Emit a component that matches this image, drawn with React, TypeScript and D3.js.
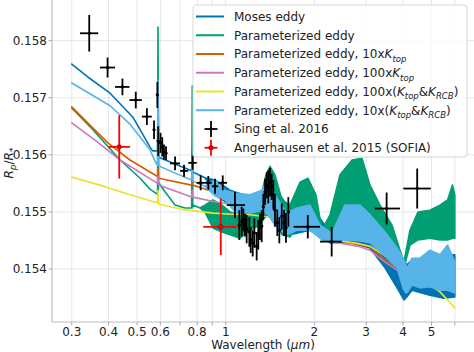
import React, { useEffect, useRef } from 'react';
import * as d3 from 'd3';

// model spectra: [wavelength (um), lower Rp/R*, upper Rp/R*]
// upper differs from lower where the spectrum is spiky or noisy
const mosesEddy: number[][] = [
  [0.300, 0.15759, 0.15759], [0.341, 0.15736, 0.15736], [0.405, 0.15708, 0.15708],
  [0.484, 0.15666, 0.15666], [0.553, 0.15614, 0.15614], [0.565, 0.15607, 0.15607],
  [0.587, 0.15607, 0.15607], [0.589, 0.15607, 0.15731], [0.592, 0.15596, 0.15596],
  [0.673, 0.15584, 0.15584], [0.766, 0.15572, 0.15572], [0.770, 0.15572, 0.15609],
  [0.773, 0.15570, 0.15570], [0.850, 0.15560, 0.15560], [0.920, 0.15530, 0.15556],
  [1.034, 0.15512, 0.15538], [1.307, 0.15486, 0.15521], [1.414, 0.15495, 0.15556],
  [1.653, 0.15460, 0.15503], [1.933, 0.15468, 0.15512], [2.261, 0.15446, 0.15465],
  [2.643, 0.15446, 0.15512], [3.090, 0.15437, 0.15495], [3.476, 0.15402, 0.15460],
  [3.82, 0.15367, 0.15433], [4.03, 0.15346, 0.15416], [4.12, 0.15351, 0.15407],
  [4.29, 0.15363, 0.15416], [4.94, 0.15354, 0.15419], [5.5, 0.15349, 0.15425],
  [6.0, 0.15351, 0.15425],
];

const paramEddy: number[][] = [
  [0.300, 0.15682, 0.15682], [0.354, 0.15644, 0.15644], [0.438, 0.15591, 0.15591],
  [0.512, 0.15559, 0.15559], [0.553, 0.15540, 0.15540], [0.579, 0.15533, 0.15533],
  [0.587, 0.15531, 0.15531], [0.589, 0.15531, 0.15824], [0.592, 0.15551, 0.15551],
  [0.623, 0.15535, 0.15535], [0.673, 0.15512, 0.15512], [0.727, 0.15507, 0.15507],
  [0.766, 0.15507, 0.15507], [0.770, 0.15507, 0.15721], [0.773, 0.15512, 0.15512],
  [0.818, 0.15507, 0.15507], [0.850, 0.15500, 0.15512], [0.905, 0.15472, 0.15521],
  [0.972, 0.15465, 0.15512], [1.034, 0.15460, 0.15500], [1.118, 0.15454, 0.15495],
  [1.209, 0.15468, 0.15512], [1.307, 0.15477, 0.15521], [1.370, 0.15495, 0.15565],
  [1.414, 0.15500, 0.15580], [1.470, 0.15486, 0.15565], [1.553, 0.15460, 0.15521],
  [1.653, 0.15456, 0.15512], [1.788, 0.15486, 0.15552], [1.903, 0.15482, 0.15559],
  [2.025, 0.15468, 0.15530], [2.122, 0.15451, 0.15468], [2.261, 0.15454, 0.15495],
  [2.444, 0.15495, 0.15565], [2.687, 0.15503, 0.15591], [2.902, 0.15512, 0.15594],
  [3.090, 0.15498, 0.15547], [3.342, 0.15477, 0.15512], [3.67, 0.15442, 0.15477],
  [3.907, 0.15412, 0.15433], [4.03, 0.15402, 0.15412], [4.225, 0.15442, 0.15468],
  [4.50, 0.15451, 0.15500], [4.94, 0.15454, 0.15503], [5.34, 0.15451, 0.15512],
  [5.67, 0.15451, 0.15521], [5.89, 0.15454, 0.15547], [6.0, 0.15454, 0.15530],
];

const tenKtop: number[][] = [
  [0.300, 0.15684, 0.15684], [0.346, 0.15652, 0.15652], [0.398, 0.15621, 0.15621],
  [0.473, 0.15591, 0.15591], [0.583, 0.15563, 0.15563], [0.587, 0.15562, 0.15562],
  [0.589, 0.15562, 0.15577], [0.592, 0.15559, 0.15559], [0.766, 0.15547, 0.15547],
  [0.770, 0.15547, 0.15556], [0.773, 0.15547, 0.15547], [0.850, 0.15540, 0.15540],
  [0.934, 0.15535, 0.15535], [1.034, 0.15524, 0.15524], [1.209, 0.15512, 0.15512],
  [1.529, 0.15495, 0.15495], [1.933, 0.15477, 0.15477], [2.35, 0.15451, 0.15451],
  [2.858, 0.15442, 0.15442], [3.090, 0.15439, 0.15439], [3.476, 0.15416, 0.15416],
  [3.82, 0.15402, 0.15402], [4.06, 0.15390, 0.15390], [4.30, 0.15383, 0.15383],
  [4.568, 0.15379, 0.15379], [5.34, 0.15372, 0.15372], [6.0, 0.15363, 0.15363],
];

const hundredKtop: number[][] = [
  [0.300, 0.15656, 0.15656], [0.360, 0.15626, 0.15626], [0.438, 0.15591, 0.15591],
  [0.583, 0.15551, 0.15551], [0.587, 0.15551, 0.15551], [0.589, 0.15551, 0.15563],
  [0.592, 0.15547, 0.15547], [0.766, 0.15526, 0.15526], [0.770, 0.15526, 0.15538],
  [0.773, 0.15526, 0.15526], [0.934, 0.15517, 0.15517], [1.034, 0.15514, 0.15514],
  [1.209, 0.15507, 0.15507], [1.529, 0.15491, 0.15491], [1.933, 0.15474, 0.15474],
  [2.35, 0.15447, 0.15447], [2.858, 0.15439, 0.15439], [3.090, 0.15433, 0.15433],
  [3.476, 0.15412, 0.15412], [3.82, 0.15398, 0.15398], [4.06, 0.15388, 0.15388],
  [4.568, 0.15379, 0.15379], [5.34, 0.15370, 0.15370], [6.0, 0.15360, 0.15360],
];

const hundredBoth: number[][] = [
  [0.300, 0.15561, 0.15561], [0.374, 0.15547, 0.15547], [0.473, 0.15530, 0.15530],
  [0.584, 0.15516, 0.15516], [0.587, 0.15516, 0.15516], [0.589, 0.15516, 0.15538],
  [0.592, 0.15514, 0.15514], [0.700, 0.15505, 0.15505], [0.905, 0.15498, 0.15498],
  [1.059, 0.15496, 0.15496], [1.209, 0.15495, 0.15495], [1.529, 0.15489, 0.15489],
  [1.933, 0.15472, 0.15472], [2.35, 0.15451, 0.15451], [2.858, 0.15444, 0.15444],
  [3.090, 0.15440, 0.15440], [3.476, 0.15423, 0.15423], [3.82, 0.15409, 0.15409],
  [4.06, 0.15398, 0.15398], [4.568, 0.15384, 0.15384], [5.34, 0.15360, 0.15360],
  [6.0, 0.15332, 0.15332],
];

const tenBoth: number[][] = [
  [0.300, 0.15726, 0.15726], [0.346, 0.15707, 0.15707], [0.405, 0.15686, 0.15686],
  [0.473, 0.15654, 0.15654], [0.553, 0.15609, 0.15609], [0.579, 0.15586, 0.15586],
  [0.587, 0.15582, 0.15582], [0.589, 0.15582, 0.15731], [0.592, 0.15581, 0.15581],
  [0.673, 0.15568, 0.15568], [0.766, 0.15556, 0.15556], [0.770, 0.15556, 0.15594],
  [0.773, 0.15554, 0.15554], [0.850, 0.15545, 0.15545], [0.920, 0.15528, 0.15556],
  [0.995, 0.15521, 0.15538], [1.075, 0.15500, 0.15533], [1.209, 0.15498, 0.15530],
  [1.328, 0.15503, 0.15538], [1.392, 0.15495, 0.15556], [1.470, 0.15477, 0.15530],
  [1.610, 0.15460, 0.15498], [1.748, 0.15468, 0.15507], [1.933, 0.15468, 0.15512],
  [2.090, 0.15454, 0.15477], [2.295, 0.15446, 0.15463], [2.54, 0.15451, 0.15512],
  [2.858, 0.15449, 0.15512], [3.090, 0.15446, 0.15495], [3.476, 0.15423, 0.15465],
  [3.82, 0.15402, 0.15437], [4.00, 0.15367, 0.15419], [4.09, 0.15358, 0.15407],
  [4.15, 0.15360, 0.15402], [4.29, 0.15372, 0.15419], [4.568, 0.15367, 0.15419],
  [4.94, 0.15369, 0.15433], [5.34, 0.15363, 0.15425], [5.67, 0.15363, 0.15442],
  [6.0, 0.15358, 0.15412],
];

// observations: [wavelength, bin low, bin high, Rp/R*, error]
const singData: number[][] = [
  [0.344, 0.320, 0.369, 0.15813, 0.00032], [0.397, 0.374, 0.421, 0.15753, 0.000175],
  [0.446, 0.421, 0.471, 0.15719, 0.000146], [0.495, 0.471, 0.519, 0.15696, 0.000146],
  [0.540, 0.519, 0.561, 0.15667, 0.000146], [0.571, 0.567, 0.575, 0.15644, 0.00016],
  [0.586, 0.584, 0.588, 0.15705, 0.00023], [0.590, 0.588, 0.592, 0.15624, 0.00026],
  [0.601, 0.597, 0.605, 0.15621, 0.000175], [0.609, 0.605, 0.613, 0.15614, 0.00017],
  [0.617, 0.613, 0.621, 0.15605, 0.00013], [0.627, 0.622, 0.632, 0.15603, 0.00012],
  [0.673, 0.647, 0.700, 0.15585, 0.00012], [0.722, 0.700, 0.746, 0.15572, 0.000105],
  [0.772, 0.746, 0.797, 0.15586, 0.00012], [0.822, 0.797, 0.850, 0.15551, 0.00013],
  [0.873, 0.850, 0.897, 0.15551, 0.00012], [0.920, 0.897, 0.944, 0.15545, 0.00013],
  [0.977, 0.944, 1.010, 0.15551, 0.00013], [1.075, 1.008, 1.163, 0.15512, 0.00023],
  [1.112, 1.103, 1.121, 0.15477, 0.00026], [1.133, 1.124, 1.142, 0.15483, 0.00026],
  [1.148, 1.139, 1.157, 0.15486, 0.00020], [1.163, 1.154, 1.172, 0.15477, 0.00020],
  [1.178, 1.169, 1.187, 0.15470, 0.00025], [1.203, 1.194, 1.212, 0.15465, 0.00026],
  [1.216, 1.207, 1.225, 0.15451, 0.00023], [1.235, 1.226, 1.244, 0.15445, 0.00023],
  [1.251, 1.242, 1.260, 0.15463, 0.00026], [1.274, 1.265, 1.283, 0.15440, 0.00025],
  [1.290, 1.281, 1.299, 0.15460, 0.00026], [1.307, 1.298, 1.316, 0.15474, 0.00023],
  [1.325, 1.316, 1.334, 0.15475, 0.00028], [1.342, 1.333, 1.351, 0.15509, 0.00023],
  [1.360, 1.351, 1.369, 0.15535, 0.00023], [1.378, 1.369, 1.387, 0.15547, 0.00023],
  [1.395, 1.386, 1.404, 0.15544, 0.00029], [1.414, 1.405, 1.423, 0.15552, 0.00025],
  [1.433, 1.424, 1.442, 0.15544, 0.00023], [1.451, 1.442, 1.460, 0.15530, 0.00026],
  [1.470, 1.461, 1.479, 0.15503, 0.00029], [1.497, 1.488, 1.506, 0.15481, 0.00023],
  [1.521, 1.512, 1.530, 0.15468, 0.00023], [1.550, 1.541, 1.559, 0.15492, 0.00023],
  [1.578, 1.569, 1.587, 0.15481, 0.00023], [1.602, 1.593, 1.611, 0.15472, 0.00026],
  [1.632, 1.623, 1.641, 0.15500, 0.00026], [1.90, 1.70, 2.09, 0.15474, 0.000204],
  [2.29, 2.09, 2.477, 0.15448, 0.00026], [3.52, 3.21, 3.91, 0.15506, 0.00028],
  [4.47, 4.01, 4.97, 0.15541, 0.00035],
];

const angerhausenData: number[][] = [
  [0.435, 0.3995, 0.473, 0.15614, 0.000555],
  [0.962, 0.839, 1.095, 0.15474, 0.000497],
];

const models = [mosesEddy, paramEddy, tenKtop, hundredKtop, hundredBoth, tenBoth];
const modelColors = ['#0173b2', '#029e73', '#d55e00', '#cc78bc', '#ece133', '#56b4e9'];

// legend labels, pieces: n = normal, i = italic, s = italic subscript
const legendLabels: [string, string][][] = [
  [['Moses eddy', 'n']],
  [['Parameterized eddy', 'n']],
  [['Parameterized eddy, 10x', 'n'], ['K', 'i'], ['top', 's']],
  [['Parameterized eddy, 100x', 'n'], ['K', 'i'], ['top', 's']],
  [['Parameterized eddy, 100x(', 'n'], ['K', 'i'], ['top', 's'], ['&', 'n'], ['K', 'i'], ['RCB', 's'], [')', 'n']],
  [['Parameterized eddy, 10x(', 'n'], ['K', 'i'], ['top', 's'], ['&', 'n'], ['K', 'i'], ['RCB', 's'], [')', 'n']],
  [['Sing et al. 2016', 'n']],
  [['Angerhausen et al. 2015 (SOFIA)', 'n']],
];

const xTicks = [0.3, 0.4, 0.5, 0.6, 0.7, 0.8, 0.9, 1, 2, 3, 4, 5, 6];
const xTickLabels = ['0.3', '0.4', '0.5', '0.6', '', '0.8', '', '1', '2', '3', '4', '5', ''];
const yTicks = [0.154, 0.155, 0.156, 0.157, 0.158];

const W = 474;
const H = 352;

function mathText(sel: any, parts: [string, string][], subSize: number) {
  let inSub = false;
  parts.forEach(([s, kind]) => {
    const t = sel.append('tspan').text(s);
    if (kind === 'i' || kind === 's') t.attr('font-style', 'italic');
    if (kind === 's') {
      t.attr('font-size', subSize);
      if (!inSub) t.attr('dy', 3.5);
      inSub = true;
    } else if (inSub) {
      t.attr('dy', -3.5);
      inSub = false;
    }
  });
}

const App = () => {
  const ref = useRef<SVGSVGElement>(null);

  useEffect(() => {
    const svg = d3.select(ref.current);
    svg.selectAll('*').remove();

    const left = 52, right = 474, top = 0, bottom = 322;

    const x = d3.scaleLog().domain([0.2571, 6.97]).range([left, right]);
    const y = d3.scaleLinear().domain([0.153072, 0.158713]).range([bottom, top]);

    svg.append('rect').attr('width', W).attr('height', H).attr('fill', '#fff');

    svg.append('clipPath').attr('id', 'plotclip')
      .append('rect').attr('x', left).attr('y', top)
      .attr('width', right - left).attr('height', bottom - top);

    // grid
    const grid = svg.append('g');
    xTicks.forEach(t => {
      grid.append('line')
        .attr('x1', x(t)).attr('x2', x(t)).attr('y1', top).attr('y2', bottom)
        .attr('stroke', '#e6e6e6').attr('stroke-width', 1);
    });
    yTicks.forEach(t => {
      grid.append('line')
        .attr('x1', left).attr('x2', right).attr('y1', y(t)).attr('y2', y(t))
        .attr('stroke', '#e6e6e6').attr('stroke-width', 1);
    });

    // model spectra
    const plot = svg.append('g').attr('clip-path', 'url(#plotclip)');
    const area = d3.area<number[]>()
      .x(d => x(d[0]))
      .y0(d => y(d[1]))
      .y1(d => y(d[2]));

    models.forEach((m, i) => {
      plot.append('path')
        .attr('d', area(m) as string)
        .attr('fill', modelColors[i])
        .attr('stroke', modelColors[i])
        .attr('stroke-width', 1.6)
        .attr('stroke-linejoin', 'round');
    });

    // error bars
    const drawErr = (data: number[][], color: string, lw: number, dotR: number, dotEdge: string) => {
      const g = plot.append('g');
      data.forEach(d => {
        g.append('line')
          .attr('x1', x(d[1])).attr('x2', x(d[2])).attr('y1', y(d[3])).attr('y2', y(d[3]))
          .attr('stroke', color).attr('stroke-width', lw);
        g.append('line')
          .attr('x1', x(d[0])).attr('x2', x(d[0])).attr('y1', y(d[3] - d[4])).attr('y2', y(d[3] + d[4]))
          .attr('stroke', color).attr('stroke-width', lw);
        g.append('circle')
          .attr('cx', x(d[0])).attr('cy', y(d[3])).attr('r', dotR)
          .attr('fill', color).attr('stroke', dotEdge).attr('stroke-width', 0.8);
      });
    };
    drawErr(singData, '#000', 1.8, 1.3, '#000');
    drawErr(angerhausenData, '#f00', 1.8, 2.2, '#8b0000');

    // axes
    const axisColor = '#bdbdbd';
    svg.append('line').attr('x1', left).attr('x2', left).attr('y1', top).attr('y2', bottom)
      .attr('stroke', axisColor).attr('stroke-width', 1.2);
    svg.append('line').attr('x1', left).attr('x2', right).attr('y1', bottom).attr('y2', bottom)
      .attr('stroke', axisColor).attr('stroke-width', 1.2);

    xTicks.forEach((t, i) => {
      svg.append('line')
        .attr('x1', x(t)).attr('x2', x(t)).attr('y1', bottom).attr('y2', bottom + 3.5)
        .attr('stroke', '#aaa').attr('stroke-width', 1);
      if (xTickLabels[i]) {
        svg.append('text')
          .attr('x', x(t)).attr('y', bottom + 13.5)
          .attr('text-anchor', 'middle')
          .attr('font-size', 12).attr('fill', '#222')
          .text(xTickLabels[i]);
      }
    });
    yTicks.forEach(t => {
      svg.append('line')
        .attr('x1', left - 3.5).attr('x2', left).attr('y1', y(t)).attr('y2', y(t))
        .attr('stroke', '#aaa').attr('stroke-width', 1);
      svg.append('text')
        .attr('x', left - 5).attr('y', y(t) + 4.3)
        .attr('text-anchor', 'end')
        .attr('font-size', 12).attr('fill', '#222')
        .text(d3.format('.3f')(t));
    });

    // axis titles
    const xl = svg.append('text')
      .attr('x', (left + right) / 2).attr('y', 348.5)
      .attr('text-anchor', 'middle').attr('font-size', 12).attr('fill', '#222');
    mathText(xl, [['Wavelength (', 'n'], ['\u03bcm', 'i'], [')', 'n']], 9);

    const yl = svg.append('text')
      .attr('transform', 'translate(12.5,163) rotate(-90)')
      .attr('text-anchor', 'middle').attr('font-size', 12).attr('fill', '#222');
    mathText(yl, [['R', 'i'], ['p', 's'], ['/', 'n'], ['R', 'i'], ['*', 's']], 9);

    // legend
    const lg = svg.append('g');
    lg.append('rect')
      .attr('x', 193).attr('y', 5).attr('width', 274).attr('height', 152)
      .attr('rx', 3)
      .attr('fill', '#fff').attr('fill-opacity', 0.8)
      .attr('stroke', '#d6d6d6').attr('stroke-width', 1);

    legendLabels.forEach((lab, i) => {
      const cy = 16.5 + i * 18.75;
      if (i < 6) {
        lg.append('line')
          .attr('x1', 196).attr('x2', 224).attr('y1', cy).attr('y2', cy)
          .attr('stroke', modelColors[i]).attr('stroke-width', 2);
      } else {
        const c = i === 6 ? '#000' : '#f00';
        lg.append('line').attr('x1', 204.5).attr('x2', 217.5).attr('y1', cy).attr('y2', cy)
          .attr('stroke', c).attr('stroke-width', 1.8);
        lg.append('line').attr('x1', 211).attr('x2', 211).attr('y1', cy - 8).attr('y2', cy + 8)
          .attr('stroke', c).attr('stroke-width', 1.8);
        lg.append('circle').attr('cx', 211).attr('cy', cy).attr('r', i === 6 ? 1.3 : 2.2)
          .attr('fill', c).attr('stroke', i === 6 ? '#000' : '#8b0000').attr('stroke-width', 0.8);
      }
      const t = lg.append('text')
        .attr('x', 234).attr('y', cy + 4.3)
        .attr('font-size', 12).attr('fill', '#222');
      mathText(t, lab, 8.5);
    });
  }, []);

  return (
    <svg
      ref={ref}
      width={W}
      height={H}
      fontFamily="DejaVu Sans, sans-serif"
      style={{ position: 'absolute', left: 0, top: 0 }}
    />
  );
};

export default App;
